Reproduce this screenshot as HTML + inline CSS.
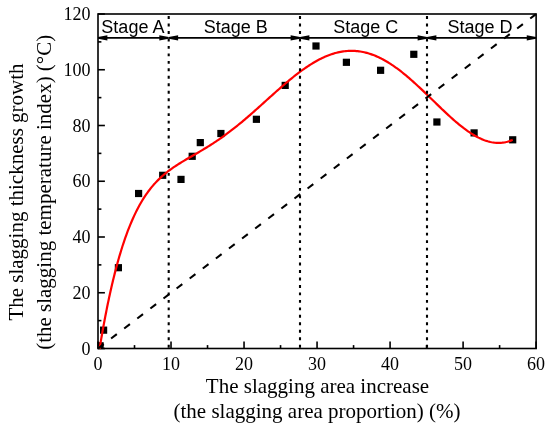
<!DOCTYPE html><html><head><meta charset="utf-8"><style>html,body{margin:0;padding:0;background:#fff;}svg{display:block;}</style></head><body>
<svg width="550" height="427" viewBox="0 0 550 427">
<rect width="550" height="427" fill="#fff"/>
<rect x="98.0" y="14.00" width="438.12" height="334.50" fill="none" stroke="#000" stroke-width="1.6"/>
<line x1="98.0" y1="348.50" x2="104.9" y2="348.50" stroke="#000" stroke-width="1.6"/>
<line x1="98.0" y1="320.62" x2="101.4" y2="320.62" stroke="#000" stroke-width="1.6"/>
<line x1="98.0" y1="292.75" x2="104.9" y2="292.75" stroke="#000" stroke-width="1.6"/>
<line x1="98.0" y1="264.88" x2="101.4" y2="264.88" stroke="#000" stroke-width="1.6"/>
<line x1="98.0" y1="237.00" x2="104.9" y2="237.00" stroke="#000" stroke-width="1.6"/>
<line x1="98.0" y1="209.12" x2="101.4" y2="209.12" stroke="#000" stroke-width="1.6"/>
<line x1="98.0" y1="181.25" x2="104.9" y2="181.25" stroke="#000" stroke-width="1.6"/>
<line x1="98.0" y1="153.38" x2="101.4" y2="153.38" stroke="#000" stroke-width="1.6"/>
<line x1="98.0" y1="125.50" x2="104.9" y2="125.50" stroke="#000" stroke-width="1.6"/>
<line x1="98.0" y1="97.62" x2="101.4" y2="97.62" stroke="#000" stroke-width="1.6"/>
<line x1="98.0" y1="69.75" x2="104.9" y2="69.75" stroke="#000" stroke-width="1.6"/>
<line x1="98.0" y1="41.88" x2="101.4" y2="41.88" stroke="#000" stroke-width="1.6"/>
<line x1="98.0" y1="14.00" x2="104.9" y2="14.00" stroke="#000" stroke-width="1.6"/>
<line x1="98.00" y1="348.5" x2="98.00" y2="341.6" stroke="#000" stroke-width="1.6"/>
<line x1="134.51" y1="348.5" x2="134.51" y2="345.1" stroke="#000" stroke-width="1.6"/>
<line x1="171.02" y1="348.5" x2="171.02" y2="341.6" stroke="#000" stroke-width="1.6"/>
<line x1="207.53" y1="348.5" x2="207.53" y2="345.1" stroke="#000" stroke-width="1.6"/>
<line x1="244.04" y1="348.5" x2="244.04" y2="341.6" stroke="#000" stroke-width="1.6"/>
<line x1="280.55" y1="348.5" x2="280.55" y2="345.1" stroke="#000" stroke-width="1.6"/>
<line x1="317.06" y1="348.5" x2="317.06" y2="341.6" stroke="#000" stroke-width="1.6"/>
<line x1="353.57" y1="348.5" x2="353.57" y2="345.1" stroke="#000" stroke-width="1.6"/>
<line x1="390.08" y1="348.5" x2="390.08" y2="341.6" stroke="#000" stroke-width="1.6"/>
<line x1="426.59" y1="348.5" x2="426.59" y2="345.1" stroke="#000" stroke-width="1.6"/>
<line x1="463.10" y1="348.5" x2="463.10" y2="341.6" stroke="#000" stroke-width="1.6"/>
<line x1="499.61" y1="348.5" x2="499.61" y2="345.1" stroke="#000" stroke-width="1.6"/>
<line x1="536.12" y1="348.5" x2="536.12" y2="341.6" stroke="#000" stroke-width="1.6"/>
<defs><clipPath id="pc"><rect x="98.0" y="14.00" width="438.12" height="334.50"/></clipPath></defs>
<g clip-path="url(#pc)">
<rect x="96.50" y="342.20" width="7.2" height="7.2" fill="#000"/>
<rect x="100.00" y="326.55" width="7.2" height="7.2" fill="#000"/>
<rect x="114.80" y="264.10" width="7.2" height="7.2" fill="#000"/>
<rect x="135.00" y="189.90" width="7.2" height="7.2" fill="#000"/>
<rect x="159.10" y="171.70" width="7.2" height="7.2" fill="#000"/>
<rect x="177.40" y="175.80" width="7.2" height="7.2" fill="#000"/>
<rect x="188.60" y="152.70" width="7.2" height="7.2" fill="#000"/>
<rect x="196.70" y="139.00" width="7.2" height="7.2" fill="#000"/>
<rect x="217.30" y="129.90" width="7.2" height="7.2" fill="#000"/>
<rect x="252.80" y="115.70" width="7.2" height="7.2" fill="#000"/>
<rect x="281.60" y="81.80" width="7.2" height="7.2" fill="#000"/>
<rect x="312.40" y="42.40" width="7.2" height="7.2" fill="#000"/>
<rect x="342.80" y="58.70" width="7.2" height="7.2" fill="#000"/>
<rect x="377.00" y="66.70" width="7.2" height="7.2" fill="#000"/>
<rect x="410.20" y="50.70" width="7.2" height="7.2" fill="#000"/>
<rect x="433.30" y="118.40" width="7.2" height="7.2" fill="#000"/>
<rect x="470.50" y="129.30" width="7.2" height="7.2" fill="#000"/>
<rect x="509.10" y="136.20" width="7.2" height="7.2" fill="#000"/>
</g>
<path d="M99.57,348.78 L99.82,347.23 L100.08,345.69 L100.33,344.17 L100.58,342.65 L100.84,341.15 L101.09,339.65 L101.35,338.17 L101.60,336.70 L101.86,335.24 L102.11,333.78 L102.36,332.34 L102.62,330.91 L102.87,329.49 L103.13,328.08 L103.38,326.68 L103.64,325.28 L103.89,323.90 L104.14,322.53 L104.40,321.17 L104.65,319.82 L104.91,318.47 L105.16,317.14 L105.42,315.82 L105.67,314.50 L105.92,313.20 L106.18,311.91 L106.43,310.62 L106.69,309.35 L106.94,308.08 L107.19,306.82 L107.45,305.57 L107.70,304.33 L107.96,303.10 L108.21,301.88 L108.47,300.67 L108.72,299.47 L108.97,298.27 L109.23,297.09 L109.48,295.91 L109.74,294.74 L109.99,293.58 L110.25,292.43 L110.50,291.29 L110.75,290.15 L111.01,289.03 L111.26,287.91 L111.52,286.80 L111.77,285.70 L112.03,284.61 L112.28,283.53 L112.53,282.45 L112.79,281.38 L113.04,280.32 L113.30,279.27 L113.55,278.23 L113.80,277.19 L114.06,276.16 L114.31,275.14 L114.57,274.13 L114.82,273.12 L115.08,272.13 L115.33,271.14 L115.58,270.15 L115.84,269.18 L116.09,268.21 L116.35,267.25 L116.60,266.30 L116.86,265.35 L117.11,264.41 L117.36,263.48 L117.62,262.56 L117.87,261.64 L118.13,260.73 L118.38,259.83 L118.63,258.94 L118.89,258.05 L119.14,257.17 L119.40,256.29 L119.65,255.42 L119.91,254.56 L121.22,250.22 L122.53,246.04 L123.85,242.04 L125.16,238.20 L126.47,234.51 L127.79,230.97 L129.10,227.58 L130.42,224.33 L131.73,221.21 L133.04,218.22 L134.36,215.36 L135.67,212.62 L136.98,209.99 L138.30,207.47 L139.61,205.06 L140.93,202.75 L142.24,200.53 L143.55,198.41 L144.87,196.38 L146.18,194.43 L147.49,192.56 L148.81,190.78 L150.12,189.06 L151.43,187.42 L152.75,185.84 L154.06,184.33 L155.38,182.87 L156.69,181.47 L158.00,180.13 L159.32,178.84 L160.63,177.59 L161.94,176.39 L163.26,175.24 L164.57,174.12 L165.89,173.04 L167.20,172.00 L168.51,170.98 L169.83,170.00 L171.14,169.04 L172.45,168.11 L173.77,167.21 L175.08,166.32 L176.39,165.46 L177.71,164.61 L179.02,163.78 L180.34,162.96 L181.65,162.16 L182.96,161.36 L184.28,160.58 L185.59,159.80 L186.90,159.03 L188.22,158.26 L189.53,157.50 L190.85,156.74 L192.16,155.98 L193.47,155.22 L194.79,154.47 L196.10,153.71 L197.41,152.94 L198.73,152.18 L200.04,151.41 L201.35,150.63 L202.67,149.85 L203.98,149.06 L205.30,148.26 L206.61,147.46 L207.92,146.65 L209.24,145.83 L210.55,144.99 L211.86,144.15 L213.18,143.30 L214.49,142.44 L215.81,141.57 L217.12,140.69 L218.43,139.80 L219.75,138.89 L221.06,137.98 L222.37,137.05 L223.69,136.11 L225.00,135.16 L226.32,134.20 L227.63,133.22 L228.94,132.24 L230.26,131.24 L231.57,130.23 L232.88,129.21 L234.20,128.18 L235.51,127.14 L236.82,126.09 L238.14,125.02 L239.45,123.95 L240.77,122.87 L242.08,121.78 L243.39,120.68 L244.71,119.57 L246.02,118.45 L247.33,117.32 L248.65,116.19 L249.96,115.05 L251.28,113.90 L252.59,112.75 L253.90,111.59 L255.22,110.43 L256.53,109.26 L257.84,108.08 L259.16,106.91 L260.47,105.73 L261.78,104.55 L263.10,103.36 L264.41,102.18 L265.73,100.99 L267.04,99.80 L268.35,98.62 L269.67,97.43 L270.98,96.25 L272.29,95.07 L273.61,93.89 L274.92,92.71 L276.24,91.54 L277.55,90.38 L278.86,89.22 L280.18,88.06 L281.49,86.91 L282.80,85.77 L284.12,84.64 L285.43,83.52 L286.74,82.40 L288.06,81.30 L289.37,80.20 L290.69,79.12 L292.00,78.05 L293.31,76.99 L294.63,75.95 L295.94,74.91 L297.25,73.90 L298.57,72.89 L299.88,71.90 L301.20,70.93 L302.51,69.98 L303.82,69.04 L305.14,68.12 L306.45,67.22 L307.76,66.34 L309.08,65.47 L310.39,64.63 L311.71,63.81 L313.02,63.01 L314.33,62.23 L315.65,61.47 L316.96,60.74 L318.27,60.02 L319.59,59.34 L320.90,58.67 L322.21,58.03 L323.53,57.42 L324.84,56.83 L326.16,56.26 L327.47,55.72 L328.78,55.21 L330.10,54.73 L331.41,54.27 L332.72,53.84 L334.04,53.43 L335.35,53.06 L336.67,52.71 L337.98,52.39 L339.29,52.10 L340.61,51.84 L341.92,51.61 L343.23,51.41 L344.55,51.24 L345.86,51.09 L347.17,50.98 L348.49,50.90 L349.80,50.85 L351.12,50.82 L352.43,50.83 L353.74,50.87 L355.06,50.94 L356.37,51.04 L357.68,51.17 L359.00,51.33 L360.31,51.52 L361.63,51.74 L362.94,51.99 L364.25,52.27 L365.57,52.58 L366.88,52.92 L368.19,53.30 L369.51,53.70 L370.82,54.13 L372.13,54.59 L373.45,55.08 L374.76,55.59 L376.08,56.14 L377.39,56.71 L378.70,57.32 L380.02,57.95 L381.33,58.60 L382.64,59.29 L383.96,60.00 L385.27,60.74 L386.59,61.50 L387.90,62.29 L389.21,63.10 L390.53,63.94 L391.84,64.80 L393.15,65.69 L394.47,66.59 L395.78,67.53 L397.10,68.48 L398.41,69.45 L399.72,70.45 L401.04,71.46 L402.35,72.50 L403.66,73.55 L404.98,74.62 L406.29,75.71 L407.60,76.82 L408.92,77.94 L410.23,79.08 L411.55,80.23 L412.86,81.40 L414.17,82.58 L415.49,83.77 L416.80,84.97 L418.11,86.19 L419.43,87.41 L420.74,88.65 L422.06,89.89 L423.37,91.14 L424.68,92.40 L426.00,93.66 L427.31,94.93 L428.62,96.20 L429.94,97.47 L431.25,98.75 L432.56,100.02 L433.88,101.30 L435.19,102.58 L436.51,103.85 L437.82,105.13 L439.13,106.40 L440.45,107.66 L441.76,108.92 L443.07,110.17 L444.39,111.42 L445.70,112.65 L447.02,113.88 L448.33,115.09 L449.64,116.29 L450.96,117.48 L452.27,118.66 L453.58,119.82 L454.90,120.97 L456.21,122.10 L457.52,123.21 L458.84,124.30 L460.15,125.37 L461.47,126.42 L462.78,127.44 L464.09,128.45 L465.41,129.42 L466.72,130.38 L468.03,131.30 L469.35,132.20 L470.66,133.07 L471.98,133.91 L473.29,134.72 L474.60,135.50 L475.92,136.24 L477.23,136.95 L478.54,137.63 L479.86,138.27 L481.17,138.87 L482.49,139.43 L483.80,139.96 L485.11,140.45 L486.43,140.89 L487.74,141.29 L489.05,141.65 L490.37,141.97 L491.68,142.24 L492.99,142.47 L494.31,142.65 L495.62,142.78 L496.94,142.86 L498.25,142.90 L499.56,142.88 L500.88,142.82 L502.19,142.70 L503.50,142.54 L504.82,142.31 L506.13,142.04 L507.45,141.71 L508.76,141.33 L510.07,140.89 L511.39,140.39 L512.70,139.84" fill="none" stroke="#f00" stroke-width="2.2" stroke-linejoin="round"/>
<line x1="168.7" y1="348.5" x2="168.7" y2="14.0" stroke="#000" stroke-width="2.1" stroke-dasharray="2.9 4.57" stroke-dashoffset="-0.85"/>
<line x1="300.0" y1="348.5" x2="300.0" y2="14.0" stroke="#000" stroke-width="2.1" stroke-dasharray="2.9 4.57" stroke-dashoffset="-0.85"/>
<line x1="427.0" y1="348.5" x2="427.0" y2="14.0" stroke="#000" stroke-width="2.1" stroke-dasharray="2.9 4.57" stroke-dashoffset="-0.85"/>
<line x1="98.0" y1="348.5" x2="536.12" y2="14.00" stroke="#000" stroke-width="2.1" stroke-dasharray="7.2 9.28"/>
<line x1="101.0" y1="37.85" x2="165.7" y2="37.85" stroke="#000" stroke-width="1.6"/>
<path d="M98.0,37.050000000000004 L107.4,35.2 L107.4,40.5 L98.0,38.65 Z" fill="#000"/>
<path d="M168.7,37.050000000000004 L159.29999999999998,35.2 L159.29999999999998,40.5 L168.7,38.65 Z" fill="#000"/>
<line x1="171.7" y1="37.85" x2="297.0" y2="37.85" stroke="#000" stroke-width="1.6"/>
<path d="M168.7,37.050000000000004 L178.1,35.2 L178.1,40.5 L168.7,38.65 Z" fill="#000"/>
<path d="M300.0,37.050000000000004 L290.6,35.2 L290.6,40.5 L300.0,38.65 Z" fill="#000"/>
<line x1="303.0" y1="37.85" x2="424.0" y2="37.85" stroke="#000" stroke-width="1.6"/>
<path d="M300.0,37.050000000000004 L309.4,35.2 L309.4,40.5 L300.0,38.65 Z" fill="#000"/>
<path d="M427.0,37.050000000000004 L417.6,35.2 L417.6,40.5 L427.0,38.65 Z" fill="#000"/>
<line x1="430.0" y1="37.85" x2="533.12" y2="37.85" stroke="#000" stroke-width="1.6"/>
<path d="M427.0,37.050000000000004 L436.4,35.2 L436.4,40.5 L427.0,38.65 Z" fill="#000"/>
<path d="M536.12,37.050000000000004 L526.72,35.2 L526.72,40.5 L536.12,38.65 Z" fill="#000"/>
<text x="132.9" y="33.3" text-anchor="middle" font-family="Liberation Sans, Arial, sans-serif" font-size="18">Stage A</text>
<text x="235.8" y="33.3" text-anchor="middle" font-family="Liberation Sans, Arial, sans-serif" font-size="18">Stage B</text>
<text x="365.7" y="33.3" text-anchor="middle" font-family="Liberation Sans, Arial, sans-serif" font-size="18">Stage C</text>
<text x="480.0" y="33.3" text-anchor="middle" font-family="Liberation Sans, Arial, sans-serif" font-size="18">Stage D</text>
<text x="90.6" y="354.50" text-anchor="end" font-family="Liberation Serif, Times New Roman, serif" font-size="18">0</text>
<text x="90.6" y="298.75" text-anchor="end" font-family="Liberation Serif, Times New Roman, serif" font-size="18">20</text>
<text x="90.6" y="243.00" text-anchor="end" font-family="Liberation Serif, Times New Roman, serif" font-size="18">40</text>
<text x="90.6" y="187.25" text-anchor="end" font-family="Liberation Serif, Times New Roman, serif" font-size="18">60</text>
<text x="90.6" y="131.50" text-anchor="end" font-family="Liberation Serif, Times New Roman, serif" font-size="18">80</text>
<text x="90.6" y="75.75" text-anchor="end" font-family="Liberation Serif, Times New Roman, serif" font-size="18">100</text>
<text x="90.6" y="20.00" text-anchor="end" font-family="Liberation Serif, Times New Roman, serif" font-size="18">120</text>
<text x="98.00" y="369.5" text-anchor="middle" font-family="Liberation Serif, Times New Roman, serif" font-size="18">0</text>
<text x="171.02" y="369.5" text-anchor="middle" font-family="Liberation Serif, Times New Roman, serif" font-size="18">10</text>
<text x="244.04" y="369.5" text-anchor="middle" font-family="Liberation Serif, Times New Roman, serif" font-size="18">20</text>
<text x="317.06" y="369.5" text-anchor="middle" font-family="Liberation Serif, Times New Roman, serif" font-size="18">30</text>
<text x="390.08" y="369.5" text-anchor="middle" font-family="Liberation Serif, Times New Roman, serif" font-size="18">40</text>
<text x="463.10" y="369.5" text-anchor="middle" font-family="Liberation Serif, Times New Roman, serif" font-size="18">50</text>
<text x="536.12" y="369.5" text-anchor="middle" font-family="Liberation Serif, Times New Roman, serif" font-size="18">60</text>
<text x="317.5" y="392.5" text-anchor="middle" font-family="Liberation Serif, Times New Roman, serif" font-size="21">The slagging area increase</text>
<text x="317" y="418.4" text-anchor="middle" font-family="Liberation Serif, Times New Roman, serif" font-size="21">(the slagging area proportion) (%)</text>
<text transform="translate(23,192) rotate(-90)" text-anchor="middle" font-family="Liberation Serif, Times New Roman, serif" font-size="21">The slagging thickness growth</text>
<text transform="translate(51.2,192.3) rotate(-90)" text-anchor="middle" font-family="Liberation Serif, Times New Roman, serif" font-size="21">(the slagging temperature index) (°C)</text>
</svg></body></html>
